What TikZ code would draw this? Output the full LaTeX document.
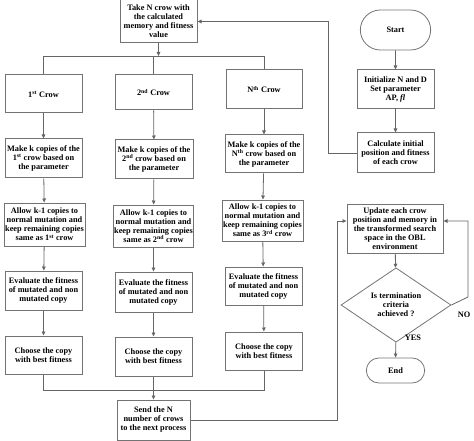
\documentclass[tikz,border=0pt]{standalone}
\usepackage{fontspec}
\setmainfont{Liberation Serif}
\usetikzlibrary{arrows.meta,shapes.geometric,shapes.misc}

\begin{document}
\begin{tikzpicture}[x=1pt,y=-1pt,>={Triangle[length=4pt,width=3.6pt]},
    font=\fontsize{8.3}{9}\selectfont\bfseries,
    block/.style={draw=black!55,line width=1pt,align=center,inner sep=1pt,minimum width=77pt},
    ending/.style={draw=black!55,line width=0.8pt,rounded rectangle,minimum width=77pt,minimum height=40pt},
    decision/.style={draw=black!55,line width=0.8pt,diamond,align=center,inner sep=0pt,minimum width=110pt,minimum height=54pt},
    line/.style={black!60,line width=0.8pt}]

\useasboundingbox (0,0) rectangle (474,441);

% Top
\node[block,minimum height=43pt] (take) at (158.5,21.5)
    {Take N crow with\\the calculated\\memory and fitness\\value};

% Crows
\node[block,minimum height=38pt] (crow1) at (43.5,94) {1\textsuperscript{st} Crow};
\node[block,minimum height=35pt] (crow2) at (153.5,92.5) {2\textsuperscript{nd} Crow};
\node[block,minimum height=39pt,minimum width=76pt] (crowN) at (264,89.5) {N\textsuperscript{th} Crow};

% Copies
\node[block,minimum height=39pt] (make1) at (43.5,158.5)
    {Make k copies of the\\1\textsuperscript{st} crow based on\\the parameter};
\node[block,minimum height=39pt,minimum width=78pt] (make2) at (154,159.5)
    {Make k copies of the\\2\textsuperscript{nd} crow based on\\the parameter};
\node[block,minimum height=38pt,minimum width=78pt] (makeN) at (264,154)
    {Make k copies of the\\N\textsuperscript{th} crow based on\\the parameter};

% Mutation
\node[block,minimum height=43pt,minimum width=81pt] (allow1) at (44.5,224.5)
    {Allow k-1 copies to\\normal mutation and\\keep remaining copies\\same as 1\textsuperscript{st} crow};
\node[block,minimum height=42pt] (allow2) at (153.5,226)
    {Allow k-1 copies to\\normal mutation and\\keep remaining copies\\same as 2\textsuperscript{nd} crow};
\node[block,minimum height=41pt,minimum width=81pt] (allowN) at (262.5,220.5)
    {Allow k-1 copies to\\normal mutation and\\keep remaining copies\\same as 3\textsuperscript{rd} crow};

% Fitness
\node[block,minimum height=39pt] (eval1) at (43.5,290.5)
    {Evaluate the fitness\\of mutated and non\\mutated copy};
\node[block,minimum height=40pt] (eval2) at (153.5,292)
    {Evaluate the fitness\\of mutated and non\\mutated copy};
\node[block,minimum height=38pt] (evalN) at (263.5,286)
    {Evaluate the fitness\\of mutated and non\\mutated copy};

% Best copy
\node[block,minimum height=38pt] (choose1) at (43.5,355) {Choose the copy\\with best fitness};
\node[block,minimum height=39pt] (choose2) at (153.5,356.5) {Choose the copy\\with best fitness};
\node[block,minimum height=38pt] (chooseN) at (264,351) {Choose the copy\\with best fitness};

\node[block,minimum height=40pt,minimum width=73pt] (send) at (153.5,420)
    {Send the N\\number of crows\\to the next process};

% Right column
\node[ending] (start) at (395.5,30) {Start};
\node[block,minimum height=39pt] (init) at (395.5,89.5)
    {Initialize N and D\\Set parameter\\AP, \textit{fl}};
\node[block,minimum height=40pt] (calc) at (395.5,153)
    {Calculate initial\\position and fitness\\of each crow};
\node[block,minimum height=49pt,minimum width=96pt] (update) at (395,228.5)
    {Update each crow\\position and memory in\\the transformed search\\space in the OBL\\environment};
\node[decision] (term) at (396,305) {Is termination\\criteria\\achieved ?};
\node[ending,minimum width=65pt,minimum height=25pt] (end) at (395.5,370.5) {End};

\coordinate (split) at (0,56);
\coordinate (merge) at (0,390);
\coordinate (backx) at (328,0);
\coordinate (loopin) at (337,221);
\coordinate (noturn) at (468,297);

% Connectors
\draw[line,->] (take) -- (take.south |- split);
\draw[line] (crow1.north) -- (crow1.north |- split) -- (crowN.north |- split) -- (crowN.north);
\draw[line] (crow2.north) -- (crow2.north |- split);

\foreach \c in {1,2,N}{
    \draw[line,->] (crow\c) -- (make\c);
    \draw[line,->] (make\c) -- (allow\c);
    \draw[line,->] (allow\c) -- (eval\c);
    \draw[line,->] (eval\c) -- (choose\c);
}

\draw[line] (choose1.south) -- (choose1.south |- merge) -- (chooseN.south |- merge) -- (chooseN.south);
\draw[line,->] (choose2) -- (send);
\draw[line,->] (send.east) -| (loopin) -- (update.west |- loopin);

\draw[line,->] (start) -- (init);
\draw[line,->] (init) -- (calc);
\draw[line,->] (calc.west) -- (calc.west -| backx) |- (take.east);

\draw[line,->] (update) -- (term);
\draw[line,->] (term) -- (end);
\draw[line,->] (term.east) -- (noturn) |- (update.east |- loopin);
\node (yes) at (413,338) {YES};
\node (no) at (464,315) {NO};

\end{tikzpicture}
\end{document}
